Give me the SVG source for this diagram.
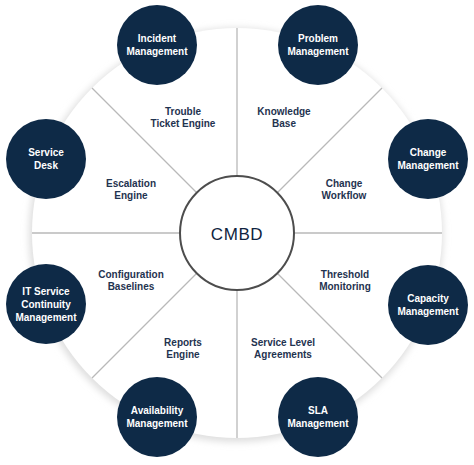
<svg xmlns="http://www.w3.org/2000/svg" width="474" height="465" viewBox="0 0 474 465">
<defs>
<filter id="soft" x="-10%" y="-10%" width="120%" height="120%">
<feGaussianBlur stdDeviation="3.5"/>
</filter>
<style>
.spoke{stroke:#b9b9b9;stroke-width:1.3;fill:none}
.node{fill:#0e2a47}
.nt{font-family:"Liberation Sans",Arial,sans-serif;font-size:10px;font-weight:700;fill:#ffffff;text-anchor:middle}
.seg{font-family:"Liberation Sans",Arial,sans-serif;font-size:10px;font-weight:700;fill:#1f3350;text-anchor:middle}
.hub{fill:#ffffff;stroke:#4d4d4d;stroke-width:2}
.ht{font-family:"Liberation Sans",Arial,sans-serif;font-size:17px;fill:#0f2340;text-anchor:middle;letter-spacing:0.6px}
</style>
</defs>
<rect width="474" height="465" fill="#ffffff"/>
<g id="wheel">
<circle cx="236" cy="235" r="207" fill="#dedede" filter="url(#soft)"/>
<circle cx="237" cy="233" r="205" fill="#ffffff"/>
</g>
<g id="connectors">
<line class="spoke" x1="237" y1="233" x2="237" y2="28"/>
<line class="spoke" x1="237" y1="233" x2="237" y2="438"/>
<line class="spoke" x1="237" y1="233" x2="32" y2="233"/>
<line class="spoke" x1="237" y1="233" x2="442" y2="233"/>
<line class="spoke" x1="237" y1="233" x2="92" y2="88"/>
<line class="spoke" x1="237" y1="233" x2="382" y2="88"/>
<line class="spoke" x1="237" y1="233" x2="92" y2="378"/>
<line class="spoke" x1="237" y1="233" x2="382" y2="378"/>
</g>
<g id="segment-labels">
<g id="seg-trouble"><text class="seg" x="183" y="115">Trouble</text><text class="seg" x="183" y="127">Ticket Engine</text></g>
<g id="seg-knowledge"><text class="seg" x="284" y="115">Knowledge</text><text class="seg" x="284" y="127">Base</text></g>
<g id="seg-change"><text class="seg" x="344" y="187">Change</text><text class="seg" x="344" y="199">Workflow</text></g>
<g id="seg-escalation"><text class="seg" x="131" y="187">Escalation</text><text class="seg" x="131" y="199">Engine</text></g>
<g id="seg-config"><text class="seg" x="131" y="278">Configuration</text><text class="seg" x="131" y="290">Baselines</text></g>
<g id="seg-threshold"><text class="seg" x="345" y="278">Threshold</text><text class="seg" x="345" y="290">Monitoring</text></g>
<g id="seg-reports"><text class="seg" x="183" y="346">Reports</text><text class="seg" x="183" y="358">Engine</text></g>
<g id="seg-sla"><text class="seg" x="283" y="346">Service Level</text><text class="seg" x="283" y="358">Agreements</text></g>
</g>
<g id="hub">
<circle class="hub" cx="237" cy="233" r="57"/>
<text class="ht" x="237" y="240">CMBD</text>
</g>
<g id="incident-management">
<circle class="node" cx="157" cy="45" r="40"/>
<text class="nt" x="157" y="42">Incident</text><text class="nt" x="157" y="55">Management</text>
</g>
<g id="problem-management">
<circle class="node" cx="318" cy="45" r="40"/>
<text class="nt" x="318" y="42">Problem</text><text class="nt" x="318" y="55">Management</text>
</g>
<g id="change-management">
<circle class="node" cx="428" cy="159" r="40"/>
<text class="nt" x="428" y="156">Change</text><text class="nt" x="428" y="169">Management</text>
</g>
<g id="capacity-management">
<circle class="node" cx="428" cy="305" r="40"/>
<text class="nt" x="428" y="302">Capacity</text><text class="nt" x="428" y="315">Management</text>
</g>
<g id="sla-management">
<circle class="node" cx="318" cy="417" r="40"/>
<text class="nt" x="318" y="414">SLA</text><text class="nt" x="318" y="427">Management</text>
</g>
<g id="availability-management">
<circle class="node" cx="157" cy="417" r="40"/>
<text class="nt" x="157" y="414">Availability</text><text class="nt" x="157" y="427">Management</text>
</g>
<g id="it-service-continuity-management">
<circle class="node" cx="46" cy="304" r="40"/>
<text class="nt" x="46" y="295">IT Service</text><text class="nt" x="46" y="308">Continuity</text><text class="nt" x="46" y="321">Management</text>
</g>
<g id="service-desk">
<circle class="node" cx="46" cy="159" r="40"/>
<text class="nt" x="46" y="156">Service</text><text class="nt" x="46" y="169">Desk</text>
</g>
</svg>
